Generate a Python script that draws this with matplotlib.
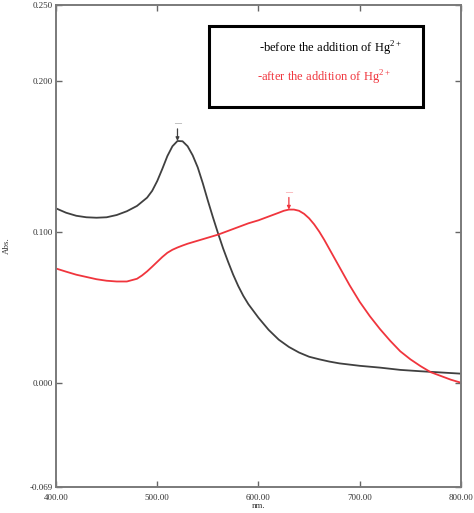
import matplotlib
matplotlib.use("Agg")
import matplotlib.pyplot as plt

plt.rcParams['font.family'] = ['Liberation Serif', 'DejaVu Serif']
plt.rcParams['mathtext.fontset'] = 'custom'
plt.rcParams['mathtext.rm'] = 'Liberation Serif'

# wavelengths (nm) and absorbance
wl_before = [400, 410, 420, 430, 440, 450, 460, 470, 480, 490, 495, 500, 505, 510,
             515, 520, 525, 530, 535, 540, 545, 550, 555, 560, 565, 570, 575, 580,
             585, 590, 600, 610, 620, 630, 640, 650, 660, 670, 680, 690, 700, 720,
             740, 760, 780, 800]
abs_before = [0.1154, 0.1125, 0.1105, 0.1095, 0.1092, 0.1095, 0.111, 0.1135, 0.117,
              0.1225, 0.127, 0.1335, 0.1415, 0.150, 0.1565, 0.1600, 0.1598, 0.1565,
              0.1505, 0.1425, 0.1320, 0.1205, 0.1095, 0.0990, 0.0890, 0.0800, 0.0715,
              0.0640, 0.0575, 0.0520, 0.0430, 0.0350, 0.0285, 0.0237, 0.0200, 0.0172,
              0.0155, 0.0140, 0.0128, 0.0120, 0.0112, 0.0100, 0.0085, 0.0076, 0.0068,
              0.0060]

wl_after = [400, 410, 420, 430, 440, 450, 460, 470, 480, 485, 490, 495, 500, 505,
            510, 515, 520, 525, 530, 540, 550, 560, 570, 580, 590, 600, 610, 620,
            625, 630, 635, 640, 645, 650, 655, 660, 665, 670, 680, 690, 700, 710,
            720, 730, 740, 750, 760, 770, 780, 790, 800]
abs_after = [0.0756, 0.0735, 0.0715, 0.0700, 0.0685, 0.0675, 0.0670, 0.0670, 0.0688,
             0.0710, 0.0737, 0.0768, 0.0800, 0.0832, 0.0860, 0.0880, 0.0895, 0.0908,
             0.0920, 0.0940, 0.0960, 0.0980, 0.1005, 0.1030, 0.1055, 0.1075, 0.1100,
             0.1125, 0.1138, 0.1146, 0.1146, 0.1138, 0.1118, 0.1088, 0.1048, 0.1000,
             0.0945, 0.0885, 0.0765, 0.0645, 0.0535, 0.0440, 0.0355, 0.0278, 0.0208,
             0.0155, 0.0110, 0.0070, 0.0045, 0.0020, 0.0000]

xticks = [400, 500, 600, 700, 800]
yticks = [-0.069, 0.0, 0.1, 0.2, 0.25]

black_col = "#404040"
red_col = "#f0353d"

fig = plt.figure(figsize=(4.74, 5.13), dpi=100)
ax = fig.add_axes([0.1181, 0.0507, 0.8545, 0.9396])

ax.plot(wl_before, abs_before, color=black_col, linewidth=1.3)
ax.plot(wl_after, abs_after, color=red_col, linewidth=1.3)

# peak markers (small arrow with a dash above it)
for wl, ab, col in [(wl_before, abs_before, black_col), (wl_after, abs_after, red_col)]:
    i = ab.index(max(ab))
    ax.annotate('', xy=(wl[i], ab[i]), xytext=(wl[i], ab[i] + 0.008),
                arrowprops=dict(arrowstyle='-|>', color=col, lw=0.9,
                                mutation_scale=5, shrinkA=0, shrinkB=0))
    ax.text(wl[i], ab[i] + 0.0095, '\u2014', color=col, fontsize=5,
            ha='center', va='bottom')

ax.set_xlim(400, 800)
ax.set_ylim(-0.069, 0.25)
ax.set_xticks(xticks)
ax.set_xticklabels(['%.2f' % v for v in xticks])
ax.set_yticks(yticks)
ax.set_yticklabels(['%.3f' % v for v in yticks])
ax.tick_params(direction='in', length=4, width=1, colors='#666666',
               labelcolor='#333333', labelsize=6.5, top=True, right=True)
ax.tick_params(axis='x', pad=5)
ax.tick_params(axis='y', pad=2)
for s in ax.spines.values():
    s.set_color('#7a7a7a')
    s.set_linewidth(1.4)

ax.set_xlabel('nm.', fontsize=6.5, color='#333333', labelpad=0)
ax.set_ylabel('Abs.', fontsize=6.5, color='#333333', labelpad=14)

# legend-like text box
box = plt.Rectangle((209 / 474, 1 - 107 / 513), 214 / 474, 81 / 513,
                    transform=fig.transFigure, fill=False, edgecolor='black',
                    linewidth=2.2)
fig.patches.append(box)
fig.text(259 / 474, 1 - 49 / 513, r'-before the addition of Hg$^{\mathrm{2+}}$',
         color='black', fontsize=9, va='center', ha='left')
fig.text(257 / 474, 1 - 78 / 513, r'-after the addition of Hg$^{\mathrm{2+}}$',
         color=red_col, fontsize=9, va='center', ha='left')

fig.savefig('out.png', dpi=100)
